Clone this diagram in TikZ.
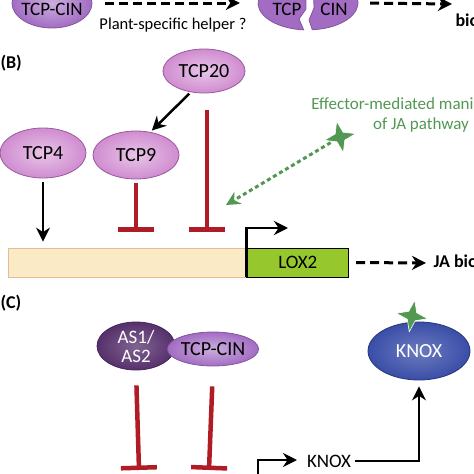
\documentclass[tikz,border=0pt]{standalone}
\usepackage{fontspec}
\setmainfont{Carlito}
\usetikzlibrary{positioning,arrows.meta,shapes.geometric,calc}

\definecolor{tcppink}{RGB}{208,140,208}
\definecolor{tcpedge}{RGB}{150,90,155}
\definecolor{cinviolet}{RGB}{162,108,195}
\definecolor{asdark}{RGB}{86,48,108}
\definecolor{knoxblue}{RGB}{58,78,168}
\definecolor{genebeige}{RGB}{250,234,198}
\definecolor{loxgreen}{RGB}{150,200,45}
\definecolor{inhred}{RGB}{176,28,38}
\definecolor{effgreen}{RGB}{82,152,82}

\begin{document}
\begin{tikzpicture}[
    x=1pt, y=-1pt,
    font=\fontsize{16.5}{18}\selectfont,
    prot/.style={ellipse, draw=tcpedge, line width=0.8pt,
                 inner color=tcppink!50, outer color=tcppink,
                 inner sep=0pt, minimum width=84pt, minimum height=48pt,
                 font=\fontsize{20}{22}\selectfont},
    cinprot/.style={prot, draw=cinviolet!80!black,
                    inner color=cinviolet!55, outer color=cinviolet},
    darkprot/.style={prot, draw=asdark!80!black, text=white, align=center,
                     inner color=asdark!75, outer color=asdark,
                     font=\fontsize{19}{19}\selectfont},
    knoxprot/.style={prot, draw=knoxblue!70!black, text=white,
                     inner color=knoxblue!75, outer color=knoxblue},
    genebox/.style={rectangle, draw=genebeige!60!brown, line width=0.8pt,
                    fill=genebeige, minimum height=29pt, inner sep=0pt},
    loxbox/.style={genebox, draw=black, fill=loxgreen,
                   font=\fontsize{19}{20}\selectfont},
    effstar/.style={star, star points=4, star point ratio=2.8,
                    fill=effgreen, draw=white, line width=0.6pt,
                    minimum size=32pt, inner sep=0pt},
    panel/.style={font=\fontsize{18}{20}\selectfont\bfseries, anchor=west},
    arr/.style={-{Stealth[length=14pt,width=14pt]}, line width=2.5pt},
    darr/.style={arr, line width=3pt, dash pattern=on 9pt off 5pt},
    inh/.style={-{Bar[width=36pt]}, line width=4.5pt, draw=inhred},
    effarr/.style={-{Stealth[length=14pt,width=14pt]}, line width=3pt,
                   draw=effgreen, dash pattern=on 4pt off 3pt}
  ]
    \clip (0,0) rectangle (474,474);

    % (A) TCP-CIN cleavage
    \node[cinprot, minimum width=80pt, minimum height=50pt] (tcpcin) at (52,3) {};
    \node (tcpcinlbl) at (52,9) {\fontsize{19}{20}\selectfont TCP-CIN};
    \node[ellipse, minimum width=100pt, minimum height=54pt] (tcpsplit) at (308,3) {};
    \filldraw[draw=cinviolet!80!black, line width=0.8pt, fill=cinviolet]
      (305.4,-24) arc[start angle=267, end angle=95, x radius=50, y radius=27]
      -- (299,19) -- (306,9) -- cycle;
    \filldraw[draw=cinviolet!80!black, line width=0.8pt, fill=cinviolet]
      (313.2,-24) arc[start angle=276, end angle=445, x radius=50, y radius=27]
      -- (309,20) -- (314,8) -- cycle;
    \node (tcp) at (287,9) {\fontsize{19}{20}\selectfont TCP};
    \node (cin) at (334,9) {\fontsize{19}{20}\selectfont CIN};
    \node (helper) at (173,25) {Plant-specific helper ?};
    \draw[darr, shorten <=13pt, shorten >=18pt] (tcpcin.east) -- (tcpsplit.west);
    \node[panel] (biotop) at (452,22) {biosynthesis};
    \coordinate (biotip) at (452,4);
    \draw[darr, shorten <=12pt] (tcpsplit.east) -- (biotip);

    % (B) TCP control of LOX2
    \node[panel] (labB) at (-3,63) {(B)};
    \node[prot, minimum width=82pt, minimum height=44pt] (tcp20) at (204,71) {TCP20};
    \node[prot, minimum width=86pt, minimum height=50pt] (tcp4) at (43,153) {TCP4};
    \node[prot, minimum width=86pt, minimum height=48pt] (tcp9) at (136,155) {TCP9};
    \node[genebox, minimum width=238pt] (gene) at (127,262.5) {};
    \node[loxbox, minimum width=102pt, right=0pt of gene] (lox) {LOX2};
    \node[panel] (jabio) at (430,263) {JA biosynthesis};
    \draw[arr, shorten <=2pt, shorten >=2pt] (tcp20.238) -- (tcp9.58);
    \draw[arr, shorten <=4pt, shorten >=6pt] (tcp4.south) -- (tcp4.south |- gene.north);
    \draw[inh, shorten <=4pt, shorten >=16pt] (tcp9.south) -- (tcp9.south |- gene.north);
    \draw[inh, shorten <=17pt, shorten >=16pt]
      ([xshift=3pt]tcp20.south) -- ([xshift=3pt]tcp20.south |- gene.north);
    \coordinate (loxtss) at (288,228);
    \draw[arr] (lox.south west) |- (loxtss);
    \draw[darr, shorten <=7pt, shorten >=4pt] (lox.east) -- (jabio.west);

    % effector
    \node[effstar, rotate=12] (star1) at (340,137) {};
    \node[text=effgreen, align=center, font=\fontsize{17}{20}\selectfont]
      (efftxt) at (421,115) {Effector-mediated manipulation\\of JA pathway};
    \coordinate (efftip) at (226,205);
    \draw[effarr, shorten <=2pt] (star1) -- (efftip);

    % (C) AS1/AS2 and TCP-CIN repress KNOX
    \node[panel] (labC) at (-3,303) {(C)};
    \node[darkprot, minimum width=78pt, minimum height=48pt] (as) at (136,346)
      {AS1/\\AS2};
    \node[cinprot, minimum width=90pt, minimum height=34pt] (tcpcinC) at (213,349)
      {TCP-CIN};
    \coordinate (asend) at (139,470);
    \coordinate (cinend) at (209,470);
    \draw[inh, shorten <=15pt] (as.south) -- (asend);
    \draw[inh, shorten <=20pt] (tcpcinC.south) -- (cinend);
    \node[knoxprot, minimum width=102pt, minimum height=58pt] (knox) at (419,351)
      {KNOX};
    \node[effstar, rotate=-10] (star2) at (412,316) {};
    \node (knoxtxt) at (329,461) {\fontsize{19}{20}\selectfont KNOX};
    \coordinate (knoxgene) at (258,490);
    \coordinate (knoxtss) at (297,460);
    \draw[arr] (knoxgene) |- (knoxtss);
    \draw[arr, line width=2pt, shorten >=6pt] (knoxtxt.east) -| (knox.south);
\end{tikzpicture}
\end{document}
